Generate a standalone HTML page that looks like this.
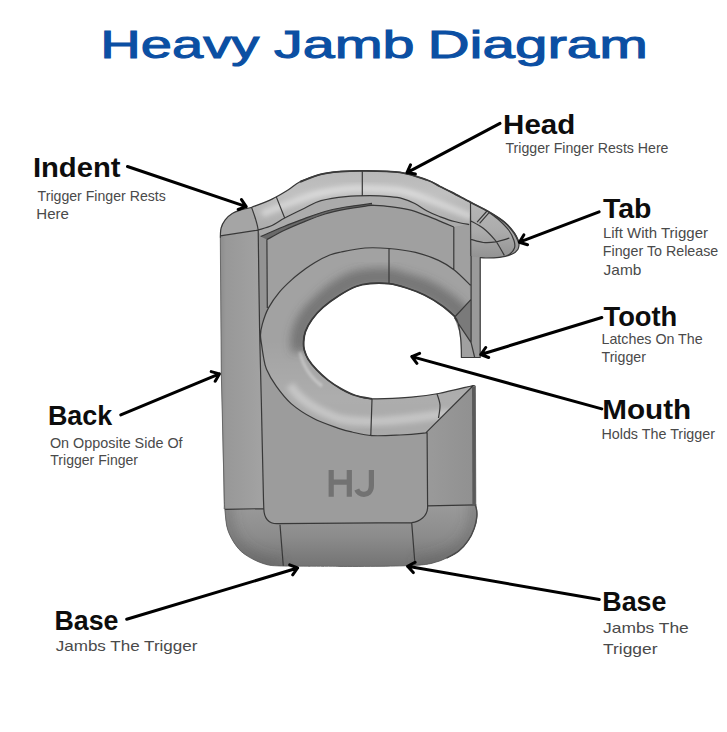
<!DOCTYPE html>
<html><head><meta charset="utf-8">
<style>
html,body{margin:0;padding:0;background:#fff;width:727px;height:732px;overflow:hidden}
svg{position:absolute;left:0;top:0}
text{font-family:"Liberation Sans",sans-serif}
.b{font-weight:bold;fill:#0d0d0d}
.s{fill:#4a4a4a}
</style></head><body>
<svg width="727" height="732" viewBox="0 0 727 732">
<defs>
<linearGradient id="gLeft" gradientUnits="userSpaceOnUse" x1="220" y1="0" x2="260" y2="0">
 <stop offset="0" stop-color="#8c8c8c"/><stop offset="0.15" stop-color="#989898"/><stop offset="1" stop-color="#a2a2a2"/>
</linearGradient>
<linearGradient id="gBase" gradientUnits="userSpaceOnUse" x1="0" y1="505" x2="0" y2="567">
 <stop offset="0" stop-color="#9a9a9a"/><stop offset="0.5" stop-color="#8c8c8c"/><stop offset="1" stop-color="#737373"/>
</linearGradient>
<linearGradient id="gBand" gradientUnits="userSpaceOnUse" x1="0" y1="170" x2="0" y2="228">
 <stop offset="0" stop-color="#b8b8b8"/><stop offset="0.4" stop-color="#c0c0c0"/><stop offset="0.7" stop-color="#b6b6b6"/><stop offset="1" stop-color="#adadad"/>
</linearGradient>
<linearGradient id="gTab" gradientUnits="userSpaceOnUse" x1="0" y1="200" x2="0" y2="258">
 <stop offset="0" stop-color="#b8b8b8"/><stop offset="0.55" stop-color="#ababab"/><stop offset="1" stop-color="#929292"/>
</linearGradient>
<linearGradient id="gJaw" gradientUnits="userSpaceOnUse" x1="427" y1="0" x2="476" y2="0">
 <stop offset="0" stop-color="#9a9a9a"/><stop offset="1" stop-color="#909090"/>
</linearGradient>
<linearGradient id="gTorusB" gradientUnits="userSpaceOnUse" x1="0" y1="340" x2="0" y2="436">
 <stop offset="0" stop-color="#fff" stop-opacity="0"/><stop offset="0.6" stop-color="#fff" stop-opacity="0.12"/><stop offset="1" stop-color="#fff" stop-opacity="0.08"/>
</linearGradient>
<filter id="blur4" x="-20%" y="-20%" width="140%" height="140%"><feGaussianBlur stdDeviation="4"/></filter>
<filter id="blur3" x="-20%" y="-20%" width="140%" height="140%"><feGaussianBlur stdDeviation="2.5"/></filter>
<filter id="blur1" x="-20%" y="-20%" width="140%" height="140%"><feGaussianBlur stdDeviation="1.2"/></filter>
<filter id="blur6" x="-20%" y="-20%" width="140%" height="140%"><feGaussianBlur stdDeviation="6"/></filter>

<clipPath id="cTorus"><path d="M470.5,285.3 C467.9,282.8 459.9,274.4 454.6,270.2 C449.3,266.0 445.1,263.4 438.6,260.4 C432.1,257.4 423.8,254.4 415.5,252.4 C407.2,250.4 397.4,249.2 389.0,248.5 C380.6,247.8 373.0,247.4 365.0,248.0 C357.0,248.6 346.9,250.8 341.0,252.0 C335.1,253.2 334.1,253.3 329.8,255.0 C325.5,256.7 319.3,259.9 315.0,262.4 C310.7,264.9 308.1,266.9 304.2,269.8 C300.3,272.7 296.0,275.9 291.9,279.6 C287.8,283.3 283.5,287.2 279.6,291.9 C275.7,296.6 271.4,302.6 268.5,307.9 C265.6,313.2 263.7,319.4 262.4,323.9 C261.1,328.4 260.6,331.4 260.5,334.9 C260.4,338.3 261.1,340.9 261.6,344.6 C262.1,348.3 262.7,352.9 263.5,357.0 C264.3,361.1 264.4,364.3 266.5,369.2 C268.6,374.1 272.3,380.7 276.4,386.4 C280.5,392.1 285.0,398.3 291.1,403.6 C297.2,408.9 305.4,414.2 313.2,418.3 C321.0,422.4 331.3,425.8 337.8,428.1 C344.3,430.4 346.3,430.8 352.0,432.0 C357.7,433.2 363.8,435.1 371.8,435.6 C379.8,436.1 391.3,435.4 400.0,435.0 C408.7,434.6 419.2,433.6 423.8,433.1 C428.4,432.6 426.9,432.1 427.5,431.9 L473.3,385.5 C467.5,386.8 448.9,391.6 438.6,393.5 C428.3,395.4 422.5,396.3 411.4,397.2 C400.3,398.1 381.3,399.1 372.0,398.8 C362.7,398.5 360.6,397.1 355.5,395.5 C350.4,393.9 345.8,391.5 341.2,388.9 C336.6,386.3 332.0,383.2 328.0,380.1 C324.0,377.0 320.3,373.7 317.0,370.2 C313.7,366.7 310.3,362.6 308.2,359.2 C306.1,355.8 305.1,352.9 304.3,350.0 C303.5,347.1 303.4,345.1 303.6,342.0 C303.8,338.9 304.0,335.4 305.4,331.6 C306.8,327.9 309.1,323.5 312.0,319.5 C314.9,315.5 318.4,311.4 323.0,307.4 C327.6,303.4 334.0,298.8 339.5,295.3 C345.0,291.8 350.9,288.5 356.0,286.5 C361.1,284.5 364.5,284.0 370.0,283.5 C375.5,283.0 382.9,282.9 389.0,283.7 C395.1,284.4 400.7,286.1 406.6,288.0 C412.5,289.9 418.5,292.1 424.4,295.0 C430.3,297.9 437.1,302.1 442.1,305.7 C447.1,309.2 451.9,313.4 454.6,316.3 C457.3,319.2 457.1,319.5 458.1,323.4 C459.1,327.2 460.2,333.7 460.8,339.4 C461.4,345.1 461.3,354.5 461.4,357.5 L470.5,299.4 L469,284 Z"/></clipPath>
<clipPath id="cBase"><path d="M223.8,509 L263.8,508.4 C264,518 268,523.5 277,523.7 L411.7,522.6 C420,522 427.1,516 427.6,507.9 L475.8,504.8 C476.0,506.9 477.2,512.2 476.9,516.1 C476.6,520.0 475.7,524.3 474.2,528.4 C472.7,532.5 470.7,537.0 468.1,540.7 C465.6,544.5 462.5,548.0 458.9,550.9 C455.3,553.8 451.1,556.0 446.6,558.1 C442.2,560.2 437.3,562.0 432.2,563.2 C427.1,564.4 424.3,564.8 415.8,565.3 C407.3,565.8 393.6,566.1 381.0,566.3 C368.4,566.5 346.8,566.4 340.0,566.4 C330.3,566.2 294.3,566.4 281.6,566.0 C268.9,565.6 269.7,565.4 264.0,563.8 C258.3,562.1 252.1,559.0 247.5,556.1 C242.9,553.2 239.8,550.6 236.5,546.2 C233.2,541.8 229.6,535.6 227.7,529.7 C225.8,523.8 225.6,516.0 225.0,511.0 C224.4,506.1 224.5,501.8 224.4,500.0 Z"/></clipPath>
</defs>
<rect width="727" height="732" fill="#fff"/>
<g fill="#0b4fa3" stroke="#0b4fa3" stroke-width="1.0" font-size="39"><text x="100.3" y="58.3" textLength="159" lengthAdjust="spacingAndGlyphs">Heavy</text><text x="274" y="58.3" textLength="140.6" lengthAdjust="spacingAndGlyphs">Jamb</text><text x="427.4" y="58.3" textLength="220.5" lengthAdjust="spacingAndGlyphs">Diagram</text></g>
<path d="M220.3,260 L220.3,237.9 C220.4,236.2 220.3,231.0 221.1,228.0 C221.9,225.0 223.3,222.3 225.2,219.8 C227.1,217.3 230.0,214.8 232.6,213.2 C235.2,211.5 237.7,210.9 240.9,209.9 C244.1,208.9 249.8,207.8 251.6,207.4 C255.0,206.0 265.9,202.0 272.0,199.1 C278.1,196.2 283.3,192.9 288.0,190.0 C292.7,187.1 294.6,184.4 300.0,181.8 C305.4,179.2 313.8,176.0 320.6,174.3 C327.4,172.6 334.1,172.1 341.0,171.5 C347.9,170.9 352.2,170.7 362.0,170.8 C371.8,170.9 389.1,170.8 400.0,172.3 C410.9,173.8 420.5,177.7 427.1,180.0 C433.7,182.3 435.4,184.1 439.5,186.2 C443.6,188.3 446.7,189.7 451.9,192.4 C457.1,195.1 464.2,199.0 470.5,202.3 C476.8,205.6 483.9,208.9 489.5,212.2 C495.1,215.5 500.3,218.6 504.4,222.1 C508.5,225.6 511.8,229.7 514.3,233.2 C516.8,236.7 518.4,241.4 519.2,243.1 C519.0,244.1 519.2,247.4 518.0,249.3 C516.8,251.2 514.9,253.0 511.8,254.3 C508.7,255.7 503.7,256.8 499.4,257.4 C495.1,258.0 489.0,258.0 485.8,258.0 C482.6,258.0 481.1,257.6 480.2,257.5 L480.2,357.5 L461.4,357.5 C461.3,354.5 461.4,345.1 460.8,339.4 C460.2,333.7 459.1,327.2 458.1,323.4 C457.1,319.5 457.3,319.2 454.6,316.3 C451.9,313.4 447.1,309.2 442.1,305.7 C437.1,302.1 430.3,297.9 424.4,295.0 C418.5,292.1 412.5,289.9 406.6,288.0 C400.7,286.1 395.1,284.4 389.0,283.7 C382.9,282.9 375.5,283.0 370.0,283.5 C364.5,284.0 361.1,284.5 356.0,286.5 C350.9,288.5 345.0,291.8 339.5,295.3 C334.0,298.8 327.6,303.4 323.0,307.4 C318.4,311.4 314.9,315.5 312.0,319.5 C309.1,323.5 306.8,327.9 305.4,331.6 C304.0,335.4 303.8,338.9 303.6,342.0 C303.4,345.1 303.5,347.1 304.3,350.0 C305.1,352.9 306.1,355.8 308.2,359.2 C310.3,362.6 313.7,366.7 317.0,370.2 C320.3,373.7 324.0,377.0 328.0,380.1 C332.0,383.2 336.6,386.3 341.2,388.9 C345.8,391.5 350.4,393.9 355.5,395.5 C360.6,397.1 362.7,398.5 372.0,398.8 C381.3,399.1 400.3,398.1 411.4,397.2 C422.5,396.3 428.3,395.4 438.6,393.5 C448.9,391.6 467.5,386.8 473.3,385.5 L475.3,386 L475.8,505 C476.0,506.9 477.2,512.2 476.9,516.1 C476.6,520.0 475.7,524.3 474.2,528.4 C472.7,532.5 470.7,537.0 468.1,540.7 C465.6,544.5 462.5,548.0 458.9,550.9 C455.3,553.8 451.1,556.0 446.6,558.1 C442.2,560.2 437.3,562.0 432.2,563.2 C427.1,564.4 424.3,564.8 415.8,565.3 C407.3,565.8 393.6,566.1 381.0,566.3 C368.4,566.5 346.8,566.4 340.0,566.4 C330.3,566.2 294.3,566.4 281.6,566.0 C268.9,565.6 269.7,565.4 264.0,563.8 C258.3,562.1 252.1,559.0 247.5,556.1 C242.9,553.2 239.8,550.6 236.5,546.2 C233.2,541.8 229.6,535.6 227.7,529.7 C225.8,523.8 225.6,516.0 225.0,511.0 C224.4,506.1 224.5,501.8 224.4,500.0 L221.3,374 Z" fill="#9c9c9c"/>
<path d="M220.3,235.9 L258.2,230.1 L259.6,330 L261.3,400 L263.5,509 L223.8,509 L221.3,374 Z" fill="url(#gLeft)"/>
<path d="M220.3,236.5 L220.3,237.9 C220.4,236.2 220.3,231.0 221.1,228.0 C221.9,225.0 223.3,222.3 225.2,219.8 C227.1,217.3 230.0,214.8 232.6,213.2 C235.2,211.5 237.7,210.9 240.9,209.9 C244.1,208.9 249.8,207.8 251.6,207.4 C254,214 257,222 258.2,230.1 Z" fill="#a5a5a5"/>
<path d="M258.2,230.1 L266.9,239.6 L267.3,307.9 L262.4,323.9 L259.6,330 Z" fill="#939393"/>
<path d="M251.6,207.4 C255.0,206.0 265.9,202.0 272.0,199.1 C278.1,196.2 283.3,192.9 288.0,190.0 C292.7,187.1 294.6,184.4 300.0,181.8 C305.4,179.2 313.8,176.0 320.6,174.3 C327.4,172.6 334.1,172.1 341.0,171.5 C347.9,170.9 352.2,170.7 362.0,170.8 C371.8,170.9 389.1,170.8 400.0,172.3 C410.9,173.8 420.5,177.7 427.1,180.0 C433.7,182.3 435.4,184.1 439.5,186.2 C443.6,188.3 446.7,189.7 451.9,192.4 C457.1,195.1 467.4,200.7 470.5,202.3 L469.2,224.6 C466.7,224.1 459.3,222.8 454.4,221.5 C449.4,220.2 444.1,218.2 439.5,216.5 C434.9,214.8 431.2,213.2 427.1,211.0 C423.0,208.8 418.9,205.6 414.8,203.5 C410.7,201.4 406.5,199.7 402.4,198.6 C398.3,197.5 395.4,197.2 390.0,196.7 C384.6,196.2 377.4,195.7 370.0,195.7 C362.6,195.7 354.0,195.8 345.8,196.6 C337.6,197.4 327.9,198.8 321.0,200.7 C314.1,202.6 310.6,205.3 304.5,208.2 C298.4,211.1 290.1,215.1 284.7,218.0 C279.3,220.9 276.4,223.5 272.0,225.5 C267.6,227.5 260.5,229.3 258.2,230.1 C257,222 254,214 251.6,207.4 Z" fill="url(#gBand)"/>
<clipPath id="cBand"><path d="M251.6,207.4 C255.0,206.0 265.9,202.0 272.0,199.1 C278.1,196.2 283.3,192.9 288.0,190.0 C292.7,187.1 294.6,184.4 300.0,181.8 C305.4,179.2 313.8,176.0 320.6,174.3 C327.4,172.6 334.1,172.1 341.0,171.5 C347.9,170.9 352.2,170.7 362.0,170.8 C371.8,170.9 389.1,170.8 400.0,172.3 C410.9,173.8 420.5,177.7 427.1,180.0 C433.7,182.3 435.4,184.1 439.5,186.2 C443.6,188.3 446.7,189.7 451.9,192.4 C457.1,195.1 467.4,200.7 470.5,202.3 L469.2,224.6 C466.7,224.1 459.3,222.8 454.4,221.5 C449.4,220.2 444.1,218.2 439.5,216.5 C434.9,214.8 431.2,213.2 427.1,211.0 C423.0,208.8 418.9,205.6 414.8,203.5 C410.7,201.4 406.5,199.7 402.4,198.6 C398.3,197.5 395.4,197.2 390.0,196.7 C384.6,196.2 377.4,195.7 370.0,195.7 C362.6,195.7 354.0,195.8 345.8,196.6 C337.6,197.4 327.9,198.8 321.0,200.7 C314.1,202.6 310.6,205.3 304.5,208.2 C298.4,211.1 290.1,215.1 284.7,218.0 C279.3,220.9 276.4,223.5 272.0,225.5 C267.6,227.5 260.5,229.3 258.2,230.1 C257,222 254,214 251.6,207.4 Z"/></clipPath>
<g clip-path="url(#cBand)"><path d="M262.0,214.0 C266.7,212.2 280.2,206.5 290.0,203.0 C299.8,199.5 311.8,195.3 321.0,193.0 C330.2,190.7 336.8,189.8 345.0,189.0 C353.2,188.2 360.8,188.2 370.0,188.5 C379.2,188.8 390.5,188.8 400.0,190.5 C409.5,192.2 418.7,196.1 427.0,199.0 C435.3,201.9 442.5,205.0 450.0,208.0 C457.5,211.0 468.3,215.5 472.0,217.0" fill="none" stroke="#fff" stroke-width="7" stroke-opacity="0.4" filter="url(#blur3)"/></g>
<path d="M258.2,230.1 C260.5,229.3 267.6,227.5 272.0,225.5 C276.4,223.5 279.3,220.9 284.7,218.0 C290.1,215.1 298.4,211.1 304.5,208.2 C310.6,205.3 314.1,202.6 321.0,200.7 C327.9,198.8 337.6,197.4 345.8,196.6 C354.0,195.8 362.6,195.7 370.0,195.7 C377.4,195.7 384.6,196.2 390.0,196.7 C395.4,197.2 398.3,197.5 402.4,198.6 C406.5,199.7 410.7,201.4 414.8,203.5 C418.9,205.6 423.0,208.8 427.1,211.0 C431.2,213.2 434.9,214.8 439.5,216.5 C444.1,218.2 449.4,220.2 454.4,221.5 C459.3,222.8 466.7,224.1 469.2,224.6 L453.8,227 C451.8,226.2 446.4,223.9 442.0,222.1 C437.6,220.2 432.7,218.0 427.1,215.9 C421.5,213.8 414.8,211.2 408.6,209.7 C402.4,208.1 396.1,207.3 390.0,206.6 C383.9,205.8 375.0,205.4 372.0,205.2 C367.6,204.0 353.6,205.7 345.8,207.0 C338.0,208.3 331.9,209.6 325.0,211.5 C318.1,213.4 311.3,216.1 304.5,218.6 C297.7,221.1 291.3,223.5 284.0,226.5 C276.7,229.5 264.6,234.8 260.7,236.5 L260.7,236.5 Z" fill="#ababab"/>
<path d="M260.7,236.5 C264.6,234.8 276.7,229.5 284.0,226.5 C291.3,223.5 297.7,221.1 304.5,218.6 C311.3,216.1 318.1,213.4 325.0,211.5 C331.9,209.6 338.0,208.3 345.8,207.0 C353.6,205.7 367.6,204.0 372.0,203.4 L372,205.2 C367.6,205.9 353.6,207.7 345.8,209.2 C338.0,210.7 331.9,211.9 325.0,214.0 C318.1,216.1 311.2,218.9 304.5,221.6 C297.8,224.3 291.3,227.0 285.0,230.0 C278.7,233.0 269.9,238.0 266.9,239.6 Z" fill="#6a6a6a"/>
<path d="M266.9,239.6 C269.9,238.0 278.7,233.0 285.0,230.0 C291.3,227.0 297.8,224.3 304.5,221.6 C311.2,218.9 318.1,216.1 325.0,214.0 C331.9,211.9 338.0,210.7 345.8,209.2 C353.6,207.7 367.6,205.9 372.0,205.2 C375.0,205.4 383.9,205.8 390.0,206.6 C396.1,207.3 402.4,208.1 408.6,209.7 C414.8,211.2 421.5,213.8 427.1,215.9 C432.7,218.0 437.6,220.2 442.0,222.1 C446.4,223.9 451.8,226.2 453.8,227.0 L453.8,270 C440,258 420,252 400,249 L360,248 C320,252 290,272 267.3,307.9 Z" fill="#a0a0a0"/>
<path d="M469.2,224.6 L453.8,227 L453.8,270 L469,284 L470.5,290 Z" fill="#a0a0a0"/>
<path d="M470.5,285.3 C467.9,282.8 459.9,274.4 454.6,270.2 C449.3,266.0 445.1,263.4 438.6,260.4 C432.1,257.4 423.8,254.4 415.5,252.4 C407.2,250.4 397.4,249.2 389.0,248.5 C380.6,247.8 373.0,247.4 365.0,248.0 C357.0,248.6 346.9,250.8 341.0,252.0 C335.1,253.2 334.1,253.3 329.8,255.0 C325.5,256.7 319.3,259.9 315.0,262.4 C310.7,264.9 308.1,266.9 304.2,269.8 C300.3,272.7 296.0,275.9 291.9,279.6 C287.8,283.3 283.5,287.2 279.6,291.9 C275.7,296.6 271.4,302.6 268.5,307.9 C265.6,313.2 263.7,319.4 262.4,323.9 C261.1,328.4 260.6,331.4 260.5,334.9 C260.4,338.3 261.1,340.9 261.6,344.6 C262.1,348.3 262.7,352.9 263.5,357.0 C264.3,361.1 264.4,364.3 266.5,369.2 C268.6,374.1 272.3,380.7 276.4,386.4 C280.5,392.1 285.0,398.3 291.1,403.6 C297.2,408.9 305.4,414.2 313.2,418.3 C321.0,422.4 331.3,425.8 337.8,428.1 C344.3,430.4 346.3,430.8 352.0,432.0 C357.7,433.2 363.8,435.1 371.8,435.6 C379.8,436.1 391.3,435.4 400.0,435.0 C408.7,434.6 419.2,433.6 423.8,433.1 C428.4,432.6 426.9,432.1 427.5,431.9 L473.3,385.5 C467.5,386.8 448.9,391.6 438.6,393.5 C428.3,395.4 422.5,396.3 411.4,397.2 C400.3,398.1 381.3,399.1 372.0,398.8 C362.7,398.5 360.6,397.1 355.5,395.5 C350.4,393.9 345.8,391.5 341.2,388.9 C336.6,386.3 332.0,383.2 328.0,380.1 C324.0,377.0 320.3,373.7 317.0,370.2 C313.7,366.7 310.3,362.6 308.2,359.2 C306.1,355.8 305.1,352.9 304.3,350.0 C303.5,347.1 303.4,345.1 303.6,342.0 C303.8,338.9 304.0,335.4 305.4,331.6 C306.8,327.9 309.1,323.5 312.0,319.5 C314.9,315.5 318.4,311.4 323.0,307.4 C327.6,303.4 334.0,298.8 339.5,295.3 C345.0,291.8 350.9,288.5 356.0,286.5 C361.1,284.5 364.5,284.0 370.0,283.5 C375.5,283.0 382.9,282.9 389.0,283.7 C395.1,284.4 400.7,286.1 406.6,288.0 C412.5,289.9 418.5,292.1 424.4,295.0 C430.3,297.9 437.1,302.1 442.1,305.7 C447.1,309.2 451.9,313.4 454.6,316.3 C457.3,319.2 457.1,319.5 458.1,323.4 C459.1,327.2 460.2,333.7 460.8,339.4 C461.4,345.1 461.3,354.5 461.4,357.5 L470.5,299.4 L469,284 Z" fill="#a2a2a2"/>
<g clip-path="url(#cTorus)">
<path d="M468.0,335.0 C467.5,333.8 466.3,331.7 465.0,328.0 C463.7,324.3 463.8,318.0 460.0,313.0 C456.2,308.0 448.0,302.2 442.0,298.0 C436.0,293.8 430.7,290.8 424.0,288.0 C417.3,285.2 407.8,282.8 402.0,281.0 C396.2,279.2 394.3,278.1 389.0,277.5 C383.7,276.9 376.0,276.9 370.0,277.5 C364.0,278.1 358.7,278.8 353.0,281.0 C347.3,283.2 341.5,286.7 336.0,290.5 C330.5,294.3 324.6,299.7 320.0,304.0 C315.4,308.3 311.6,312.2 308.5,316.5 C305.4,320.8 303.0,325.8 301.5,330.0 C300.0,334.2 299.7,338.3 299.5,342.0 C299.3,345.7 300.3,350.3 300.5,352.0" fill="none" stroke="#4a4a4a" stroke-width="18" stroke-opacity="0.5" filter="url(#blur4)"/>
<path d="M290,385 C298,398 314,410 340,419 C365,424 400,421 450,413" fill="none" stroke="#ffffff" stroke-width="9" stroke-opacity="0.3" filter="url(#blur3)"/>
<path d="M300,352 C303,366 311,378 322,386" fill="none" stroke="#ffffff" stroke-width="3.5" stroke-opacity="0.3" filter="url(#blur1)"/>
<rect x="250" y="330" width="230" height="110" fill="url(#gTorusB)"/>
</g>
<path d="M454.3,317.5 L471.1,299.4 L471.1,342.6 Z" fill="#7a7a7a"/>
<path d="M454.3,317.5 L471.1,342.6 L474.7,357.5 L461.4,357.5 C461.3,355.3 461.0,348.5 460.6,344.2 C460.2,339.9 460.1,336.1 459.0,331.6 C457.9,327.2 455.1,319.9 454.3,317.5 Z" fill="#a0a0a0"/>
<path d="M470.5,202.3 L480.2,207.2 L480.2,357.5 L474.7,357.5 L471.1,342.6 Z" fill="#9a9a9a"/>
<path d="M469.9,200.6 C473.7,204.0 483.9,208.9 489.5,212.2 C495.1,215.5 500.3,218.6 504.4,222.1 C508.5,225.6 511.8,229.7 514.3,233.2 C516.8,236.7 518.4,241.4 519.2,243.1 C519.0,244.1 519.2,247.4 518.0,249.3 C516.8,251.2 514.9,253.0 511.8,254.3 C508.7,255.7 503.7,256.8 499.4,257.4 C495.1,258.0 489.0,258.0 485.8,258.0 C482.6,258.0 481.1,257.6 480.2,257.5 L470.4,256.4 Z" fill="url(#gTab)"/>
<path d="M425.8,432.9 L473.3,385.5 L475.3,386 L475.8,505 L427.6,506 L427.1,432.9 Z" fill="url(#gJaw)"/>
<path d="M223.8,509 L263.8,508.4 C264,518 268,523.5 277,523.7 L411.7,522.6 C420,522 427.1,516 427.6,507.9 L475.8,504.8 C476.0,506.9 477.2,512.2 476.9,516.1 C476.6,520.0 475.7,524.3 474.2,528.4 C472.7,532.5 470.7,537.0 468.1,540.7 C465.6,544.5 462.5,548.0 458.9,550.9 C455.3,553.8 451.1,556.0 446.6,558.1 C442.2,560.2 437.3,562.0 432.2,563.2 C427.1,564.4 424.3,564.8 415.8,565.3 C407.3,565.8 393.6,566.1 381.0,566.3 C368.4,566.5 346.8,566.4 340.0,566.4 C330.3,566.2 294.3,566.4 281.6,566.0 C268.9,565.6 269.7,565.4 264.0,563.8 C258.3,562.1 252.1,559.0 247.5,556.1 C242.9,553.2 239.8,550.6 236.5,546.2 C233.2,541.8 229.6,535.6 227.7,529.7 C225.8,523.8 225.6,516.0 225.0,511.0 C224.4,506.1 224.5,501.8 224.4,500.0 Z" fill="url(#gBase)"/>
<g clip-path="url(#cBase)"><path d="M224,500 C224.5,501.8 224.4,506.1 225.0,511.0 C225.6,516.0 225.8,523.8 227.7,529.7 C229.6,535.6 233.2,541.8 236.5,546.2 C239.8,550.6 242.9,553.2 247.5,556.1 C252.1,559.0 258.3,562.1 264.0,563.8 C269.7,565.4 278.7,565.6 281.6,566.0" fill="none" stroke="#555" stroke-width="16" stroke-opacity="0.32" filter="url(#blur6)"/>
<path d="M476,500 C476.0,506.9 477.2,512.2 476.9,516.1 C476.6,520.0 475.7,524.3 474.2,528.4 C472.7,532.5 470.7,537.0 468.1,540.7 C465.6,544.5 462.5,548.0 458.9,550.9 C455.3,553.8 451.1,556.0 446.6,558.1 C442.2,560.2 437.3,562.0 432.2,563.2 C427.1,564.4 418.5,564.9 415.8,565.3" fill="none" stroke="#555" stroke-width="16" stroke-opacity="0.32" filter="url(#blur6)"/></g>
<path d="M220.3,237.9 C220.4,236.2 220.3,231.0 221.1,228.0 C221.9,225.0 223.3,222.3 225.2,219.8 C227.1,217.3 230.0,214.8 232.6,213.2 C235.2,211.5 237.7,210.9 240.9,209.9 C244.1,208.9 249.8,207.8 251.6,207.4 C255.0,206.0 265.9,202.0 272.0,199.1 C278.1,196.2 283.3,192.9 288.0,190.0 C292.7,187.1 294.6,184.4 300.0,181.8 C305.4,179.2 313.8,176.0 320.6,174.3 C327.4,172.6 334.1,172.1 341.0,171.5 C347.9,170.9 352.2,170.7 362.0,170.8 C371.8,170.9 389.1,170.8 400.0,172.3 C410.9,173.8 420.5,177.7 427.1,180.0 C433.7,182.3 435.4,184.1 439.5,186.2 C443.6,188.3 446.7,189.7 451.9,192.4 C457.1,195.1 464.2,199.0 470.5,202.3 C476.8,205.6 483.9,208.9 489.5,212.2 C495.1,215.5 500.3,218.6 504.4,222.1 C508.5,225.6 511.8,229.7 514.3,233.2 C516.8,236.7 518.4,241.4 519.2,243.1 C519.0,244.1 519.2,247.4 518.0,249.3 C516.8,251.2 514.9,253.0 511.8,254.3 C508.7,255.7 503.7,256.8 499.4,257.4 C495.1,258.0 489.0,258.0 485.8,258.0 C482.6,258.0 481.1,257.6 480.2,257.5 L480.2,357.5 L461.4,357.5 C461.3,354.5 461.4,345.1 460.8,339.4 C460.2,333.7 459.1,327.2 458.1,323.4 C457.1,319.5 457.3,319.2 454.6,316.3 C451.9,313.4 447.1,309.2 442.1,305.7 C437.1,302.1 430.3,297.9 424.4,295.0 C418.5,292.1 412.5,289.9 406.6,288.0 C400.7,286.1 395.1,284.4 389.0,283.7 C382.9,282.9 375.5,283.0 370.0,283.5 C364.5,284.0 361.1,284.5 356.0,286.5 C350.9,288.5 345.0,291.8 339.5,295.3 C334.0,298.8 327.6,303.4 323.0,307.4 C318.4,311.4 314.9,315.5 312.0,319.5 C309.1,323.5 306.8,327.9 305.4,331.6 C304.0,335.4 303.8,338.9 303.6,342.0 C303.4,345.1 303.5,347.1 304.3,350.0 C305.1,352.9 306.1,355.8 308.2,359.2 C310.3,362.6 313.7,366.7 317.0,370.2 C320.3,373.7 324.0,377.0 328.0,380.1 C332.0,383.2 336.6,386.3 341.2,388.9 C345.8,391.5 350.4,393.9 355.5,395.5 C360.6,397.1 362.7,398.5 372.0,398.8 C381.3,399.1 400.3,398.1 411.4,397.2 C422.5,396.3 428.3,395.4 438.6,393.5 C448.9,391.6 467.5,386.8 473.3,385.5 L475.3,386 M258.2,230.1 C260.5,229.3 267.6,227.5 272.0,225.5 C276.4,223.5 279.3,220.9 284.7,218.0 C290.1,215.1 298.4,211.1 304.5,208.2 C310.6,205.3 314.1,202.6 321.0,200.7 C327.9,198.8 337.6,197.4 345.8,196.6 C354.0,195.8 362.6,195.7 370.0,195.7 C377.4,195.7 384.6,196.2 390.0,196.7 C395.4,197.2 398.3,197.5 402.4,198.6 C406.5,199.7 410.7,201.4 414.8,203.5 C418.9,205.6 423.0,208.8 427.1,211.0 C431.2,213.2 434.9,214.8 439.5,216.5 C444.1,218.2 449.4,220.2 454.4,221.5 C459.3,222.8 466.7,224.1 469.2,224.6 M260.7,236.5 C264.6,234.8 276.7,229.5 284.0,226.5 C291.3,223.5 297.7,221.1 304.5,218.6 C311.3,216.1 318.1,213.4 325.0,211.5 C331.9,209.6 338.0,208.3 345.8,207.0 C353.6,205.7 367.6,204.0 372.0,203.4 M266.9,239.6 C269.9,238.0 278.7,233.0 285.0,230.0 C291.3,227.0 297.8,224.3 304.5,221.6 C311.2,218.9 318.1,216.1 325.0,214.0 C331.9,211.9 338.0,210.7 345.8,209.2 C353.6,207.7 367.6,205.9 372.0,205.2 M372.0,205.2 C375.0,205.4 383.9,205.8 390.0,206.6 C396.1,207.3 402.4,208.1 408.6,209.7 C414.8,211.2 421.5,213.8 427.1,215.9 C432.7,218.0 437.6,220.2 442.0,222.1 C446.4,223.9 451.8,226.2 453.8,227.0 M470.5,285.3 C467.9,282.8 459.9,274.4 454.6,270.2 C449.3,266.0 445.1,263.4 438.6,260.4 C432.1,257.4 423.8,254.4 415.5,252.4 C407.2,250.4 397.4,249.2 389.0,248.5 C380.6,247.8 373.0,247.4 365.0,248.0 C357.0,248.6 346.9,250.8 341.0,252.0 C335.1,253.2 334.1,253.3 329.8,255.0 C325.5,256.7 319.3,259.9 315.0,262.4 C310.7,264.9 308.1,266.9 304.2,269.8 C300.3,272.7 296.0,275.9 291.9,279.6 C287.8,283.3 283.5,287.2 279.6,291.9 C275.7,296.6 271.4,302.6 268.5,307.9 C265.6,313.2 263.7,319.4 262.4,323.9 C261.1,328.4 260.6,331.4 260.5,334.9 C260.4,338.3 261.1,340.9 261.6,344.6 C262.1,348.3 262.7,352.9 263.5,357.0 C264.3,361.1 264.4,364.3 266.5,369.2 C268.6,374.1 272.3,380.7 276.4,386.4 C280.5,392.1 285.0,398.3 291.1,403.6 C297.2,408.9 305.4,414.2 313.2,418.3 C321.0,422.4 331.3,425.8 337.8,428.1 C344.3,430.4 346.3,430.8 352.0,432.0 C357.7,433.2 363.8,435.1 371.8,435.6 C379.8,436.1 391.3,435.4 400.0,435.0 C408.7,434.6 419.2,433.6 423.8,433.1 C428.4,432.6 426.9,432.1 427.5,431.9 M220.3,235.9 L258.2,230.1 M251.6,207.4 C254,214 257,222 258.2,230.1 C258.4,246.8 259.1,301.7 259.6,330.0 C260.1,358.3 260.7,371.7 261.3,400.0 C261.9,428.3 263.1,483.3 263.5,500.0 L263.8,508.4 C264,518 268,523.5 277,523.7 L411.7,522.6 C420,522 427.1,516 427.6,507.9 M276.5,197.4 L284.7,218.0 M362.3,171.0 L362.3,196.0 M266.9,239.6 L267.3,307.9 M453.8,227.0 L453.8,270.0 M470.5,202.3 L470.8,256.0 M471.1,256.0 L471.1,342.6 L474.7,357.5 M454.3,317.5 L471.1,299.4 M454.3,317.5 L471.1,342.6 M389.0,248.3 L389.0,283.7 M372.0,399.5 L370.8,435.5 M437.0,393.8 C437.5,395.7 439.8,401.0 440.0,405.0 C440.2,409.0 438.8,415.8 438.5,418.0 M425.8,432.9 L473.3,385.5 M427.1,432.9 L427.6,507.9 M225.0,509.4 L263.8,508.6 M427.6,505.8 L476.3,504.8 M280.0,524.7 L283.3,566.0 M411.7,522.6 L415.0,564.8 M471.0,220.9 C473.1,222.1 479.4,225.2 483.3,228.3 C487.2,231.4 491.8,236.3 494.5,239.4 C497.2,242.5 497.8,244.1 499.4,246.8 C501.0,249.5 503.6,254.1 504.4,255.5 M471.0,239.4 C473.1,239.9 479.2,242.1 483.3,242.5 C487.4,242.9 491.4,242.6 495.7,241.9 C500.0,241.2 507.0,238.8 509.3,238.2 M488.6,211.9 C490.3,213.2 495.6,216.9 499.0,220.0 C502.4,223.1 506.5,227.1 509.0,230.5 C511.5,233.9 513.1,237.6 514.0,240.5 C514.9,243.4 515.2,245.8 514.5,248.0 C513.8,250.2 511.6,252.6 510.0,254.0 C508.4,255.4 505.8,256.1 505.0,256.5 M477.1,222.1 L487.0,211.0 M479.6,223.3 L489.5,212.2" fill="none" stroke="#383838" stroke-width="1.2" stroke-linejoin="round"/>
<path d="M475.3,386 L475.8,505 C476.0,506.9 477.2,512.2 476.9,516.1 C476.6,520.0 475.7,524.3 474.2,528.4 C472.7,532.5 470.7,537.0 468.1,540.7 C465.6,544.5 462.5,548.0 458.9,550.9 C455.3,553.8 451.1,556.0 446.6,558.1 C442.2,560.2 437.3,562.0 432.2,563.2 C427.1,564.4 424.3,564.8 415.8,565.3 C407.3,565.8 393.6,566.1 381.0,566.3 C368.4,566.5 346.8,566.4 340.0,566.4 C330.3,566.2 294.3,566.4 281.6,566.0 C268.9,565.6 269.7,565.4 264.0,563.8 C258.3,562.1 252.1,559.0 247.5,556.1 C242.9,553.2 239.8,550.6 236.5,546.2 C233.2,541.8 229.6,535.6 227.7,529.7 C225.8,523.8 225.6,516.0 225.0,511.0 C224.4,506.1 224.5,501.8 224.4,500.0 L221.3,374 L220.3,237.9" fill="none" stroke="#5a5a5a" stroke-width="0.8"/>
<path d="M300.0,181.8 C303.4,180.6 313.8,176.0 320.6,174.3 C327.4,172.6 334.1,172.1 341.0,171.5 C347.9,170.9 352.2,170.7 362.0,170.8 C371.8,170.9 389.1,170.8 400.0,172.3 C410.9,173.8 420.5,177.7 427.1,180.0 C433.7,182.3 435.4,184.1 439.5,186.2 C443.6,188.3 446.7,189.7 451.9,192.4 C457.1,195.1 464.2,199.0 470.5,202.3 C476.8,205.6 483.9,208.9 489.5,212.2 C495.1,215.5 500.3,218.6 504.4,222.1 C508.5,225.6 511.8,229.7 514.3,233.2 C516.8,236.7 518.4,241.4 519.2,243.1" fill="none" stroke="#3a3a3a" stroke-width="1.8"/>
<path d="M454.6,316.3 C452.5,314.5 447.1,309.2 442.1,305.7 C437.1,302.1 430.3,297.9 424.4,295.0 C418.5,292.1 412.5,289.9 406.6,288.0 C400.7,286.1 395.1,284.4 389.0,283.7 C382.9,282.9 375.5,283.0 370.0,283.5 C364.5,284.0 361.1,284.5 356.0,286.5 C350.9,288.5 345.0,291.8 339.5,295.3 C334.0,298.8 327.6,303.4 323.0,307.4 C318.4,311.4 314.9,315.5 312.0,319.5 C309.1,323.5 306.8,327.9 305.4,331.6 C304.0,335.4 303.8,338.9 303.6,342.0 C303.4,345.1 303.5,347.1 304.3,350.0 C305.1,352.9 306.1,355.8 308.2,359.2 C310.3,362.6 313.7,366.7 317.0,370.2 C320.3,373.7 324.0,377.0 328.0,380.1 C332.0,383.2 336.6,386.3 341.2,388.9 C345.8,391.5 350.4,393.9 355.5,395.5 C360.6,397.1 369.2,398.2 372.0,398.8" fill="none" stroke="#3a3a3a" stroke-width="1.8"/>
<path d="M473.6,387 L474,505" stroke="#5a5a5a" stroke-width="3.2" fill="none"/>
<path d="M475.2,505 C476.0,506.9 477.2,512.2 476.9,516.1 C476.6,520.0 475.7,524.3 474.2,528.4 C472.7,532.5 470.7,537.0 468.1,540.7 C465.6,544.5 462.5,548.0 458.9,550.9 C455.3,553.8 448.7,556.9 446.6,558.1" stroke="#4a4a4a" stroke-width="1.4" fill="none"/>
<path d="M331.2,469.9 V496.7 M349.3,469.9 V496.7 M331.2,482.2 H349.3 M371.4,469.9 V485.5 C371.4,492 367.5,494.3 364,494.3 C360.5,494.3 358,492.5 356.8,489.5" fill="none" stroke="#727272" stroke-width="5.2"/>
<path d="M500.0,123.4 L407.0,172.6 M415.4,174.1 L407.0,172.6 L410.5,164.8 M127.5,166.5 L246.2,206.7 M241.5,199.6 L246.2,206.7 L238.2,209.5 M599.1,211.9 L519.4,242.2 M527.5,244.7 L519.4,242.2 L523.8,234.9 M601.8,317.5 L480.8,354.5 M488.7,357.5 L480.8,354.5 L485.7,347.5 M601.8,408.9 L411.8,356.6 M416.9,363.4 L411.8,356.6 L419.6,353.3 M120.8,414.9 L219.4,373.9 M211.2,371.6 L219.4,373.9 L215.2,381.3 M126.7,619.2 L297.6,568.0 M289.7,564.9 L297.6,568.0 L292.7,574.9 M599.3,599.6 L407.6,566.3 M413.3,572.6 L407.6,566.3 L415.1,562.3" fill="none" stroke="#000" stroke-width="3" stroke-linecap="round" stroke-linejoin="round"/>
<text class="b" x="503.1" y="134.0" font-size="28.0" textLength="72.1" lengthAdjust="spacingAndGlyphs">Head</text>
<text class="s" x="505.5" y="152.7" font-size="14.8" textLength="163.0" lengthAdjust="spacingAndGlyphs">Trigger Finger Rests Here</text>
<text class="b" x="32.9" y="176.8" font-size="28.0" textLength="87.7" lengthAdjust="spacingAndGlyphs">Indent</text>
<text class="s" x="37.6" y="200.8" font-size="14.8" textLength="128.2" lengthAdjust="spacingAndGlyphs">Trigger Finger Rests</text>
<text class="s" x="36.3" y="219.4" font-size="14.8" textLength="32.6" lengthAdjust="spacingAndGlyphs">Here</text>
<text class="b" x="603.0" y="218.2" font-size="28.0" textLength="48.5" lengthAdjust="spacingAndGlyphs">Tab</text>
<text class="s" x="602.9" y="237.6" font-size="14.8" textLength="105.1" lengthAdjust="spacingAndGlyphs">Lift With Trigger</text>
<text class="s" x="602.8" y="256.3" font-size="14.8" textLength="115.5" lengthAdjust="spacingAndGlyphs">Finger To Release</text>
<text class="s" x="603.6" y="275.0" font-size="14.8" textLength="37.8" lengthAdjust="spacingAndGlyphs">Jamb</text>
<text class="b" x="603.5" y="326.0" font-size="28.0" textLength="73.8" lengthAdjust="spacingAndGlyphs">Tooth</text>
<text class="s" x="601.5" y="344.3" font-size="14.8" textLength="101.2" lengthAdjust="spacingAndGlyphs">Latches On The</text>
<text class="s" x="601.5" y="362.3" font-size="14.8" textLength="44.4" lengthAdjust="spacingAndGlyphs">Trigger</text>
<text class="b" x="602.2" y="419.3" font-size="28.0" textLength="89.0" lengthAdjust="spacingAndGlyphs">Mouth</text>
<text class="s" x="601.4" y="438.7" font-size="14.8" textLength="113.6" lengthAdjust="spacingAndGlyphs">Holds The Trigger</text>
<text class="b" x="47.9" y="424.6" font-size="28.0" textLength="64.3" lengthAdjust="spacingAndGlyphs">Back</text>
<text class="s" x="49.9" y="447.7" font-size="14.8" textLength="132.7" lengthAdjust="spacingAndGlyphs">On Opposite Side Of</text>
<text class="s" x="50.3" y="465.2" font-size="14.8" textLength="87.7" lengthAdjust="spacingAndGlyphs">Trigger Finger</text>
<text class="b" x="54.5" y="629.6" font-size="28.0" textLength="64.0" lengthAdjust="spacingAndGlyphs">Base</text>
<text class="s" x="55.7" y="650.7" font-size="14.8" textLength="141.8" lengthAdjust="spacingAndGlyphs">Jambs The Trigger</text>
<text class="b" x="602.3" y="610.6" font-size="28.0" textLength="64.1" lengthAdjust="spacingAndGlyphs">Base</text>
<text class="s" x="603.0" y="632.8" font-size="14.8" textLength="85.8" lengthAdjust="spacingAndGlyphs">Jambs The</text>
<text class="s" x="603.0" y="654.3" font-size="14.8" textLength="54.5" lengthAdjust="spacingAndGlyphs">Trigger</text>
</svg></body></html>
